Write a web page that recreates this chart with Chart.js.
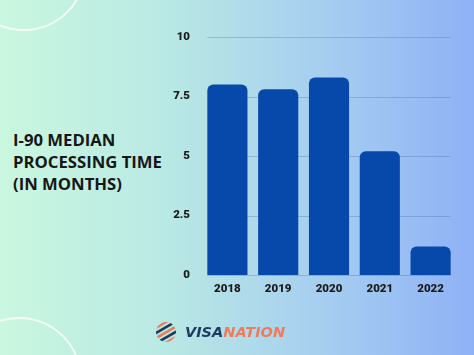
<!DOCTYPE html>
<html>
<head>
<meta charset="utf-8">
<script src="https://cdn.jsdelivr.net/npm/chart.js@4.4.0/dist/chart.umd.min.js"></script>
<style>
  html, body { margin: 0; padding: 0; }
  body {
    width: 474px; height: 355px; overflow: hidden; position: relative;
    background: linear-gradient(90deg, #c9f7df 0%, #b9e9e4 35%, #a3cbf1 72%, #8fb1f6 100%);
    font-family: "Open Sans", sans-serif;
  }
  .ring { position: absolute; border: 2.5px solid rgba(255,255,255,0.8); border-radius: 50%; }
  #wrap { position: absolute; left: 0; top: 0; width: 474px; height: 355px; }
  #title {
    position: absolute; left: 13px; top: 129px;
    font-weight: 700; font-size: 16.7px; line-height: 22px; color: #171717;
  }
  #logo { position: absolute; left: 154px; top: 321px; display: flex; align-items: center; }
  #logo span { font-family: "DejaVu Sans", sans-serif; font-weight: bold; font-style: italic; font-size: 14.5px; letter-spacing: 0px; }
</style>
</head>
<body>
<div class="ring" style="left:-38px; top:-93px; width:120px; height:120px;"></div>
<div class="ring" style="left:-44px; top:317px; width:122px; height:122px;"></div>
<div id="title">I-90 MEDIAN<br>PROCESSING TIME<br>(IN MONTHS)</div>
<div id="wrap"><canvas id="chart" width="474" height="355"></canvas></div>
<div id="logo">
  <svg width="24" height="22" viewBox="0 0 24 22">
    <defs><clipPath id="c"><circle cx="12" cy="11" r="10"/></clipPath></defs>
    <g clip-path="url(#c)" transform="rotate(-30 12 11)">
      <rect x="0" y="1" width="24" height="2.6" fill="#ef7b5c"/>
      <rect x="0" y="5.5" width="24" height="2.6" fill="#1f3a5f"/>
      <rect x="0" y="10" width="24" height="2.6" fill="#ef7b5c"/>
      <rect x="0" y="14.5" width="24" height="2.6" fill="#1f3a5f"/>
      <rect x="0" y="19" width="24" height="2.6" fill="#ef7b5c"/>
    </g>
  </svg>
  <span style="color:#1f3a5f; margin-left:7px;">VISA</span><span style="color:#ef7b5c;">NATION</span>
</div>
<script>
const years = ['2018', '2019', '2020', '2021', '2022'];
const months = [8.0, 7.8, 8.3, 5.2, 1.2];
const yTicks = [0, 2.5, 5, 7.5, 10];

// grid lines only between the outer bar edges, like the original
const gridPlugin = {
    id: 'barGrid',
    beforeDatasetsDraw(chart) {
        const meta = chart.getDatasetMeta(0);
        const first = meta.data[0], last = meta.data[meta.data.length - 1];
        const x1 = first.x - first.width / 2;
        const x2 = last.x + last.width / 2;
        const y = chart.scales.y;
        const ctx = chart.ctx;
        ctx.save();
        ctx.strokeStyle = 'rgba(80,115,175,0.35)';
        ctx.lineWidth = 1;
        yTicks.forEach(v => {
            const py = Math.round(y.getPixelForValue(v)) + 0.5;
            ctx.beginPath();
            ctx.moveTo(x1, py);
            ctx.lineTo(x2, py);
            ctx.stroke();
        });
        ctx.restore();
    }
};

new Chart(document.getElementById('chart'), {
    type: 'bar',
    data: {
        labels: years,
        datasets: [{
            data: months,
            backgroundColor: '#0748ab',
            borderRadius: { topLeft: 6, topRight: 6 },
            borderSkipped: 'bottom',
            barPercentage: 0.79,
            categoryPercentage: 1
        }]
    },
    options: {
        responsive: false,
        animation: false,
        layout: { padding: { left: 0, right: 18, top: 37, bottom: 0 } },
        plugins: { legend: { display: false }, tooltip: { enabled: false } },
        scales: {
            y: {
                min: 0, max: 10,
                afterBuildTicks(s) { s.ticks = yTicks.map(v => ({ value: v })); },
                afterFit(s) { s.width = 202; },
                grid: { display: false },
                border: { display: false },
                ticks: {
                    padding: 4,
                    color: '#1a1a1a',
                    font: { family: 'Roboto', weight: '900', size: 11.5 }
                }
            },
            x: {
                afterFit(s) { s.height = 80; },
                grid: { display: false, drawTicks: false },
                border: { display: false },
                ticks: {
                    padding: 7,
                    color: '#1a1a1a',
                    font: { family: 'Roboto', weight: '900', size: 11.5 }
                }
            }
        }
    },
    plugins: [gridPlugin]
});
</script>
</body>
</html>
